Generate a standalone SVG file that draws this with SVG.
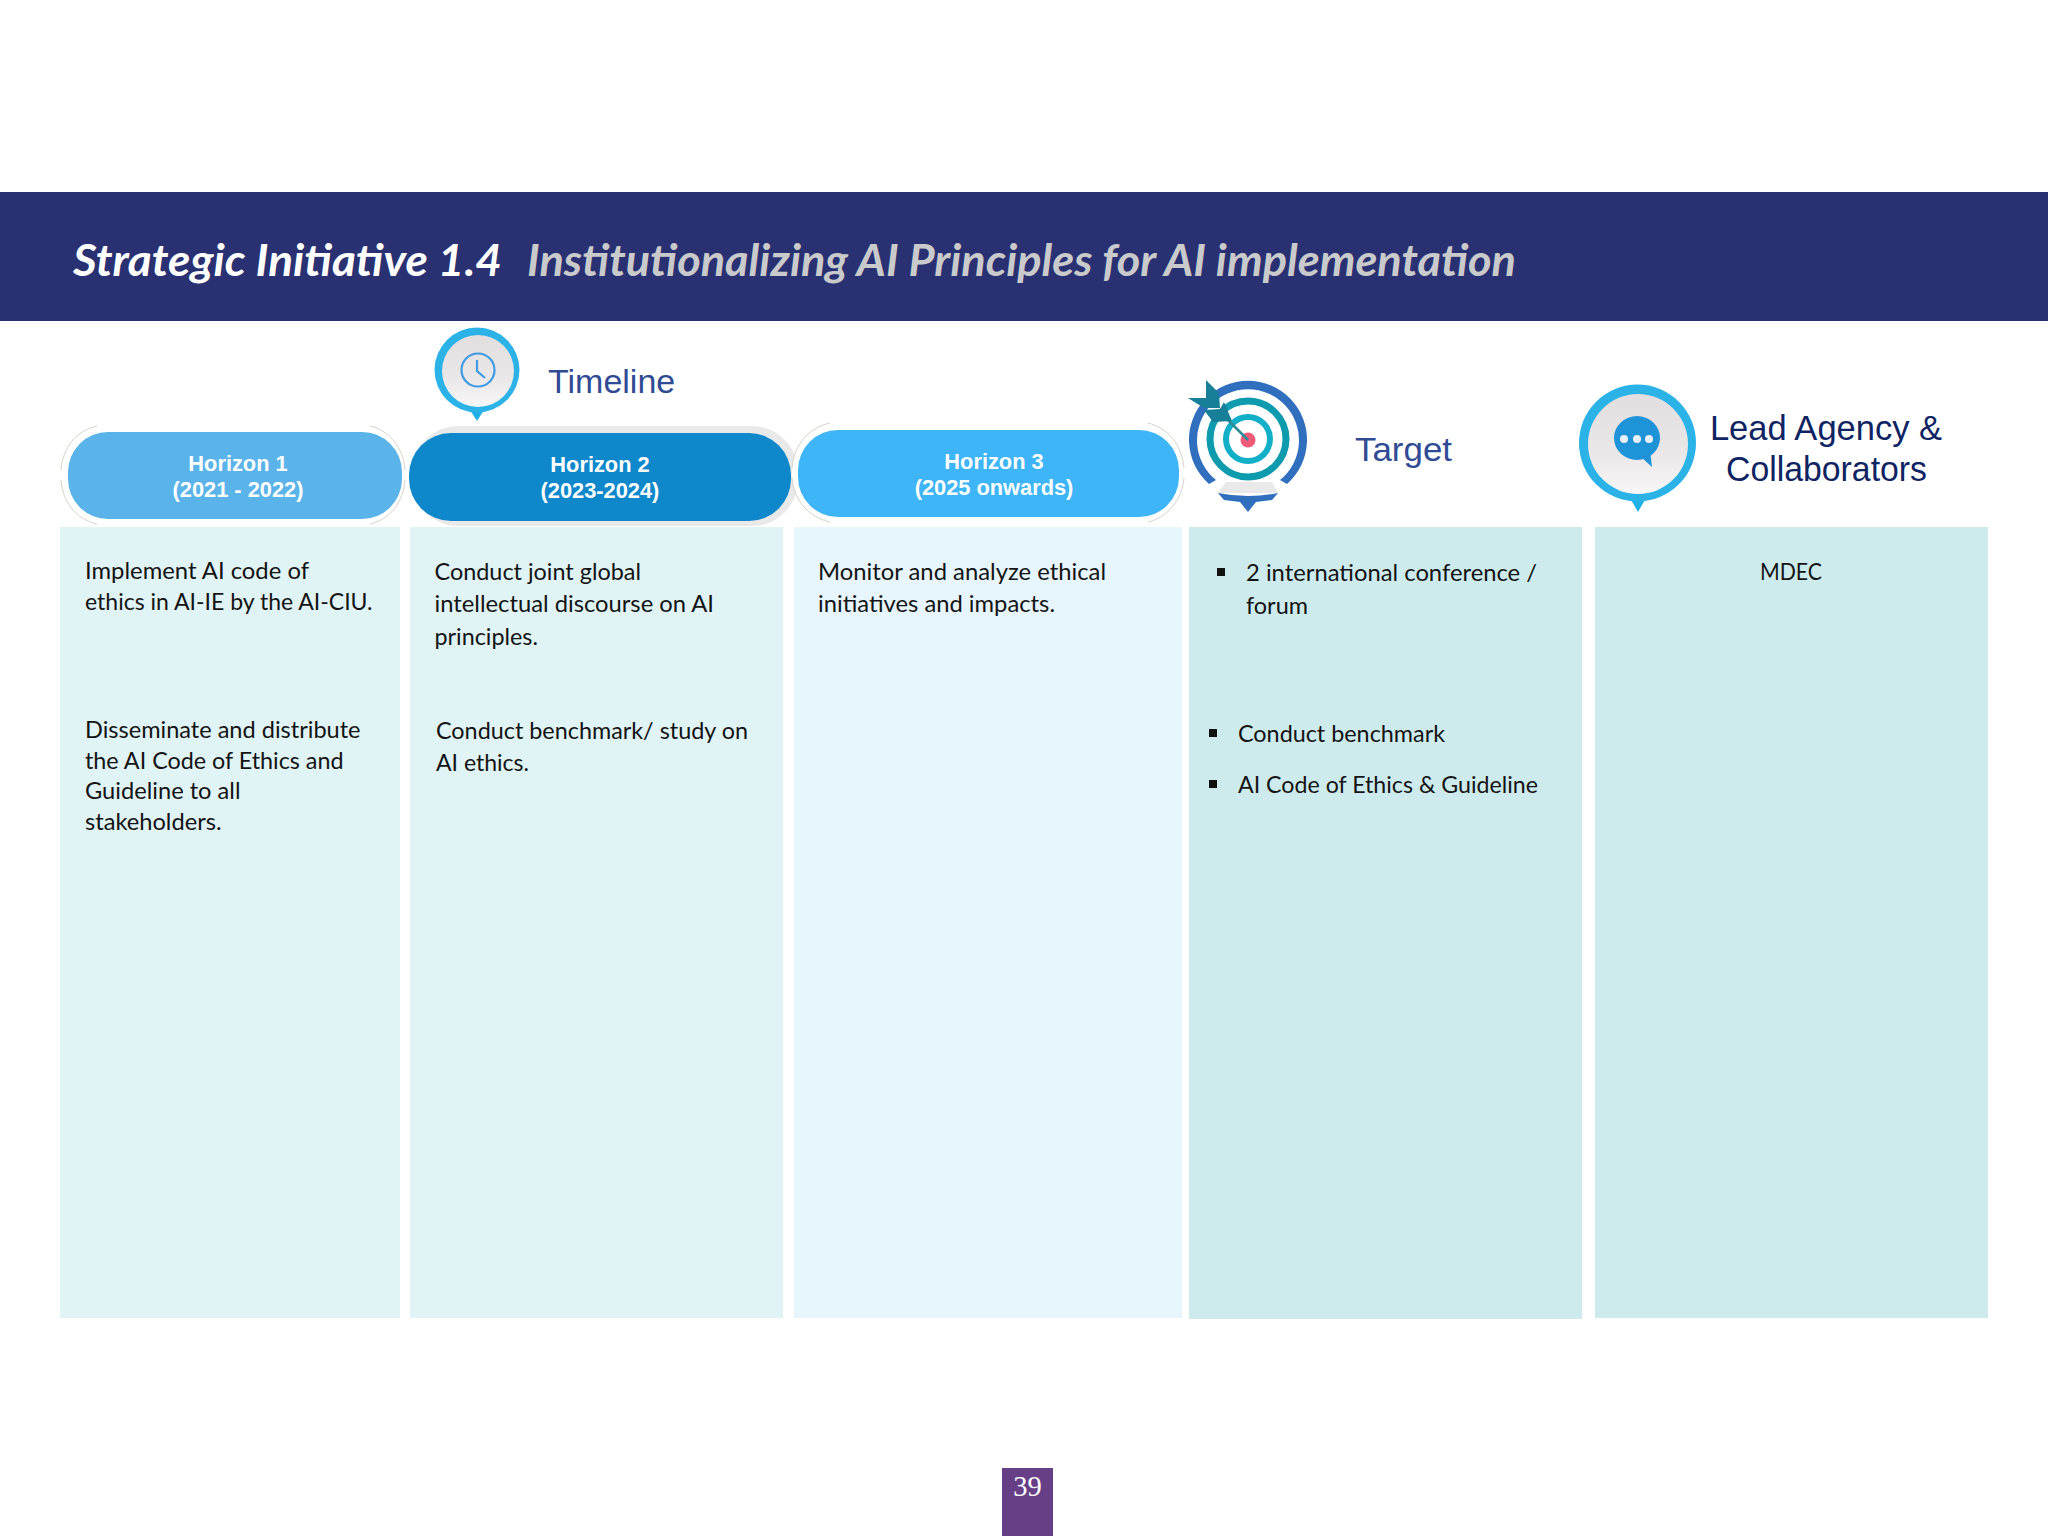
<svg xmlns="http://www.w3.org/2000/svg" width="2048" height="1536" viewBox="0 0 2048 1536">
<style>
.title{font-family:"Lato","Liberation Sans",sans-serif;font-weight:700;font-style:italic;font-size:44px}
.pill{font-family:"Liberation Sans",Arial,sans-serif;font-weight:700;font-size:21.8px;fill:#fff;text-anchor:middle}
.head{font-family:"Liberation Sans",Arial,sans-serif;font-size:34px;fill:#2F4B94}
.lead{font-family:"Liberation Sans",Arial,sans-serif;font-size:34.5px;fill:#0F2462;text-anchor:middle}
.b{font-family:"Lato","Noto Sans",sans-serif;font-size:23px;fill:#141414}
.arc{fill:none;stroke:#d6d2cc;stroke-width:1}
</style>
<defs>
<linearGradient id="disc" x1="0" y1="0" x2="0" y2="1"><stop offset="0" stop-color="#E2DEDF"/><stop offset="0.6" stop-color="#EAE7E8"/><stop offset="1" stop-color="#F8F7F7"/></linearGradient>
</defs>
<rect width="2048" height="1536" fill="#fff"/>

<g id="header">
<rect x="0" y="192" width="2048" height="129" fill="#293172"/>
<text class="title" x="73" y="276" fill="#fff" textLength="429" lengthAdjust="spacingAndGlyphs">Strategic Initiative 1.4</text>
<text class="title" x="527" y="276" fill="#C9CACC" textLength="989" lengthAdjust="spacingAndGlyphs">Institutionalizing AI Principles for AI implementation</text>
</g>

<g id="timeline-head">
<path d="M470 410L477 421L484 410Z" fill="#1FB0E6"/>
<circle cx="477" cy="370" r="42.500" fill="#2BB3E8"/>
<circle cx="478" cy="371" r="36" fill="url(#disc)"/>
<circle cx="478" cy="370" r="16.5" fill="none" stroke="#3F9BE4" stroke-width="2.2"/>
<path d="M477 360V371L485 378" fill="none" stroke="#3F9BE4" stroke-width="2.2"/>
<text class="head" x="548" y="393">Timeline</text>
</g>

<g id="horizon-1">
<rect x="61" y="426" width="344" height="98" rx="48" fill="#fff"/>
<path class="arc" d="M61 470C63 447 76 431 97 426M370 426C390 431 403 447 405 470M61 480C63 503 76 519 97 524M370 524C390 519 403 503 405 480"/>
<rect x="68" y="432" width="334" height="87" rx="40" fill="#5AB4EA"/>
<text class="pill" x="238" y="470.500">Horizon 1</text>
<text class="pill" x="238" y="497">(2021 - 2022)</text>
</g>

<g id="horizon-2">
<rect x="412" y="426" width="386" height="100" rx="46" fill="#EAE9E9"/>
<rect x="409" y="433" width="382" height="88" rx="42" fill="#0E88CB"/>
<text class="pill" x="600" y="472">Horizon 2</text>
<text class="pill" x="600" y="498">(2023-2024)</text>
</g>

<g id="horizon-3">
<rect x="792" y="423" width="392" height="99" rx="48" fill="#fff"/>
<path class="arc" d="M792 468C794 445 808 428 830 423M1148 423C1168 428 1182 445 1184 468M792 478C794 500 808 517 830 522M1148 522C1168 517 1182 500 1184 478"/>
<rect x="798" y="430" width="381" height="87" rx="40" fill="#3DB5F7"/>
<text class="pill" x="994" y="469">Horizon 3</text>
<text class="pill" x="994" y="495">(2025 onwards)</text>
</g>

<g id="target-head">
<path d="M1209 484A59 59 0 1 1 1287 484L1280 480A51 51 0 1 0 1216 480Z" fill="#2F6FBE"/>
<circle cx="1248" cy="439" r="38" fill="none" stroke="#0E9BAE" stroke-width="7"/>
<circle cx="1248" cy="439" r="22" fill="none" stroke="#11AFC8" stroke-width="6"/>
<circle cx="1248" cy="440" r="7.5" fill="#EE5A78"/>
<path d="M1226 418L1248 440" stroke="#2A8C96" stroke-width="2.5"/>
<path d="M1206 380L1219 393L1220 408L1204 408L1188 398L1206 398Z" fill="#177F97"/>
<path d="M1204 410L1220 409L1224 402L1232 421L1213 422Z" fill="#177F97"/>
<path d="M1226 482H1272L1278 493H1218Z" fill="#E9E9E9"/>
<path d="M1218 493Q1248 499 1278 493L1272 500L1256 502L1248 512L1240 502L1224 500Z" fill="#2F6FBE"/>
<text class="head" x="1355" y="461" font-size="34.500" textLength="97" lengthAdjust="spacingAndGlyphs">Target</text>
</g>

<g id="lead-head">
<path d="M1630 498L1638 512L1646 498Z" fill="#1FB0E6"/>
<circle cx="1637.500" cy="443" r="58.500" fill="#2BB3E8"/>
<circle cx="1638" cy="444" r="50" fill="url(#disc)"/>
<ellipse cx="1637" cy="438" rx="23" ry="22" fill="#1F93D8"/>
<path d="M1640 456L1652 467L1650 450Z" fill="#1F93D8"/>
<circle cx="1624" cy="439" r="4" fill="#E9F2F8"/><circle cx="1637" cy="439" r="4" fill="#E9F2F8"/><circle cx="1649" cy="439" r="4" fill="#E9F2F8"/>
<text class="lead" x="1826" y="440">Lead Agency &amp;</text>
<text class="lead" x="1826.500" y="481" textLength="201" lengthAdjust="spacingAndGlyphs">Collaborators</text>
</g>

<g id="column-1">
<rect x="60" y="527" width="340" height="791" fill="#E0F3F5"/>
<text class="b" x="85" y="579" textLength="224" lengthAdjust="spacingAndGlyphs">Implement AI code of</text>
<text class="b" x="85" y="610" textLength="287.500" lengthAdjust="spacingAndGlyphs">ethics in AI-IE by the AI-CIU.</text>
<text class="b" x="85" y="738" textLength="275.500" lengthAdjust="spacingAndGlyphs">Disseminate and distribute</text>
<text class="b" x="85" y="769" textLength="258.500" lengthAdjust="spacingAndGlyphs">the AI Code of Ethics and</text>
<text class="b" x="85" y="799" textLength="155.500" lengthAdjust="spacingAndGlyphs">Guideline to all</text>
<text class="b" x="85" y="830" textLength="136.500" lengthAdjust="spacingAndGlyphs">stakeholders.</text>
</g>

<g id="column-2">
<rect x="410" y="527" width="373" height="791" fill="#E0F3F5"/>
<text class="b" x="434.500" y="580" textLength="206.500" lengthAdjust="spacingAndGlyphs">Conduct joint global</text>
<text class="b" x="434.500" y="612" textLength="279.500" lengthAdjust="spacingAndGlyphs">intellectual discourse on AI</text>
<text class="b" x="434.500" y="645" textLength="103.500" lengthAdjust="spacingAndGlyphs">principles.</text>
<text class="b" x="436" y="739" textLength="312" lengthAdjust="spacingAndGlyphs">Conduct benchmark/ study on</text>
<text class="b" x="436" y="771" textLength="93" lengthAdjust="spacingAndGlyphs">AI ethics.</text>
</g>

<g id="column-3">
<rect x="794" y="527" width="388" height="791" fill="#E7F5FC"/>
<text class="b" x="818" y="580" textLength="288" lengthAdjust="spacingAndGlyphs">Monitor and analyze ethical</text>
<text class="b" x="818" y="612" textLength="237" lengthAdjust="spacingAndGlyphs">initiatives and impacts.</text>
</g>

<g id="column-4">
<rect x="1189" y="527" width="393" height="792" fill="#CDEBED"/>
<rect x="1217" y="568" width="8" height="8" fill="#111"/>
<text class="b" x="1246" y="581" textLength="291" lengthAdjust="spacingAndGlyphs">2 international conference /</text>
<text class="b" x="1246" y="614" textLength="62" lengthAdjust="spacingAndGlyphs">forum</text>
<rect x="1209" y="729" width="8" height="8" fill="#111"/>
<text class="b" x="1238" y="742" textLength="207" lengthAdjust="spacingAndGlyphs">Conduct benchmark</text>
<rect x="1209" y="780" width="8" height="8" fill="#111"/>
<text class="b" x="1238" y="793" textLength="300" lengthAdjust="spacingAndGlyphs">AI Code of Ethics &amp; Guideline</text>
</g>

<g id="column-5">
<rect x="1595" y="527" width="393" height="791" fill="#CDEBED"/>
<text class="b" x="1760" y="580" textLength="62" lengthAdjust="spacingAndGlyphs">MDEC</text>
</g>

<g id="page-number">
<rect x="1002" y="1468" width="51" height="68" fill="#673F87"/>
<text x="1027.500" y="1496" text-anchor="middle" font-family="Liberation Serif, serif" font-size="28.500" fill="#fff">39</text>
</g>
</svg>
